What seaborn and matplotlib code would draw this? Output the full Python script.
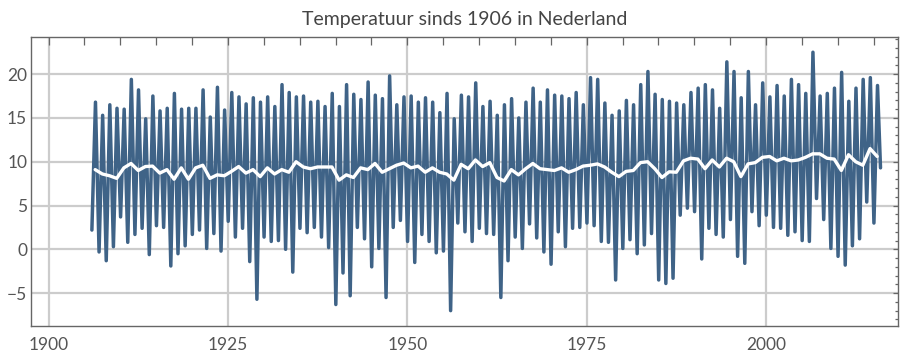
import seaborn as sns
import pandas as pd
import numpy as np
import matplotlib
matplotlib.use("Agg")
import matplotlib.pyplot as plt
from matplotlib.ticker import MultipleLocator

# Monthly temperatures (De Bilt): coldest (Jan) and warmest (Jul) month per year
years = list(range(1906, 2016))

coldest = [2.2, -0.3, -1.3, 0.3, 3.7, 0.8, 1.7, 2.4, -0.6, 2.7,
           2.5, -1.9, -0.5, 0.4, 1.7, 2.2, 0.1, 1.8, -0.2, 3.2,
           1.4, 2.4, -1.4, -5.7, 1.4, 0.9, 1.0, 0.0, -2.6, 2.4,
           1.9, 2.5, 1.4, 0.2, -6.3, -2.7, -5.3, 2.5, 1.2, -2.0,
           0.1, -5.5, 2.5, 3.3, 0.9, -1.5, 1.7, 0.9, -0.4, -0.2,
           -7.0, 3.0, 2.0, 0.9, 2.4, 1.8, 1.7, -5.5, -1.3, 1.4,
           0.1, 2.9, 1.3, -0.3, -1.7, 2.0, 0.3, 2.4, 2.5, 3.0,
           2.7, 0.9, 0.8, -3.5, 0.1, 1.1, -0.5, 0.5, 1.8, -3.5,
           -3.9, -3.3, 3.9, 4.7, 4.3, -1.1, 2.4, 1.7, 1.4, 3.4,
           -0.8, -1.6, 4.3, 2.7, 3.9, 2.5, 2.4, 1.6, 2.0, 1.0,
           0.9, 5.8, 3.4, 0.1, -0.8, -1.8, 0.4, 1.2, 5.4, 3.0]

warmest = [16.8, 15.3, 16.5, 16.1, 16.0, 19.4, 18.2, 14.9, 17.5, 15.8,
           16.1, 17.8, 16.0, 16.1, 16.1, 18.2, 15.1, 18.5, 15.9, 17.9,
           17.4, 16.6, 17.3, 16.8, 17.4, 16.3, 18.8, 17.9, 17.4, 17.5,
           16.8, 16.9, 16.3, 17.8, 16.3, 18.8, 17.7, 17.1, 19.1, 17.6,
           17.2, 19.8, 16.5, 17.4, 17.5, 16.8, 17.3, 16.8, 15.6, 17.8,
           14.9, 17.6, 17.4, 19.0, 16.3, 16.9, 15.3, 16.5, 17.2, 15.0,
           16.8, 18.4, 16.8, 18.2, 17.6, 17.5, 17.2, 17.9, 16.5, 19.6,
           19.4, 16.7, 15.3, 15.8, 17.0, 16.5, 18.8, 20.3, 17.7, 17.1,
           16.9, 16.7, 16.5, 17.9, 18.4, 18.8, 18.2, 16.1, 21.4, 20.3,
           17.3, 20.3, 16.5, 19.0, 17.4, 18.7, 17.5, 19.4, 18.8, 17.8,
           22.5, 17.5, 17.8, 18.4, 20.2, 16.9, 18.4, 19.4, 19.6, 18.7]

last_month_temp = 9.3  # December 2015

# Yearly mean temperature
annual_mean = [9.1, 8.6, 8.4, 8.1, 9.3, 9.8, 9.0, 9.45, 9.5, 8.7,
               9.1, 8.0, 9.3, 8.0, 9.3, 9.6, 8.1, 8.5, 8.4, 8.9,
               9.45, 8.7, 9.1, 8.3, 9.3, 8.6, 9.1, 8.8, 10.0, 9.4,
               9.2, 9.4, 9.4, 9.4, 7.9, 8.5, 8.2, 9.3, 9.1, 9.8,
               8.8, 9.2, 9.6, 9.85, 9.3, 9.5, 8.8, 9.3, 8.8, 8.6,
               7.9, 9.7, 9.2, 10.2, 9.45, 9.9, 8.2, 7.8, 9.1, 8.5,
               9.2, 9.8, 9.2, 9.1, 9.0, 9.3, 8.8, 9.1, 9.5, 9.6,
               9.75, 9.4, 8.8, 8.3, 8.9, 9.0, 9.9, 10.0, 9.2, 8.2,
               8.85, 8.8, 10.1, 10.4, 10.3, 9.2, 10.2, 9.4, 10.4, 10.0,
               8.3, 9.75, 9.9, 10.5, 10.6, 10.1, 10.4, 10.1, 10.2, 10.5,
               10.9, 10.9, 10.4, 10.3, 9.0, 10.8, 10.0, 9.6, 11.5, 10.6]

x_ticks = [1900, 1925, 1950, 1975, 2000]

# build monthly series (Jan / Jul mid-month positions)
t, v = [], []
for y, lo, hi in zip(years, coldest, warmest):
    t += [y + 0.5 / 12, y + 6.5 / 12]
    v += [lo, hi]
t.append(years[-1] + 11.5 / 12)
v.append(last_month_temp)
monthly = pd.DataFrame({"tijd": t, "temp": v})
yearly = pd.DataFrame({"tijd": [y + 0.5 for y in years], "temp": annual_mean})

sns.set_style("white")
plt.rcParams["font.family"] = ["Lato", "DejaVu Sans"]

fig = plt.figure(figsize=(9, 3.59), dpi=100)
ax = fig.add_axes([0.0348, 0.092, 0.963, 0.804])

sns.lineplot(data=monthly, x="tijd", y="temp", sort=False, estimator=None,
             color="#3f6387", linewidth=2.5, ax=ax)
sns.lineplot(data=yearly, x="tijd", y="temp", sort=False, estimator=None,
             color="white", linewidth=2.4, ax=ax)

ax.set_xlim(1897.6, 2018.4)
ax.set_ylim(-8.75, 24.2)
ax.set_xticks(x_ticks)
ax.xaxis.set_minor_locator(MultipleLocator(5))
ax.yaxis.set_major_locator(MultipleLocator(5))
ax.yaxis.set_minor_locator(MultipleLocator(1))
ax.set_xlabel("")
ax.set_ylabel("")

ax.grid(True, which="major", color="#cccccc", linewidth=1.6)
ax.set_axisbelow(True)
for s in ax.spines.values():
    s.set_color("#666666")
    s.set_linewidth(1.0)

ax.tick_params(axis="both", which="both", direction="in", top=True, right=True,
               color="#666666", width=0.9, labelcolor="#555555", labelsize=12.5)
ax.tick_params(axis="x", which="both", length=5.5, pad=8)
ax.tick_params(axis="y", which="major", length=3.8, pad=3)
ax.tick_params(axis="y", which="minor", length=2.2)

ax.set_title("Temperatuur sinds 1906 in Nederland", fontsize=14, color="#444444", pad=9)

plt.savefig("out.png", dpi=100)
